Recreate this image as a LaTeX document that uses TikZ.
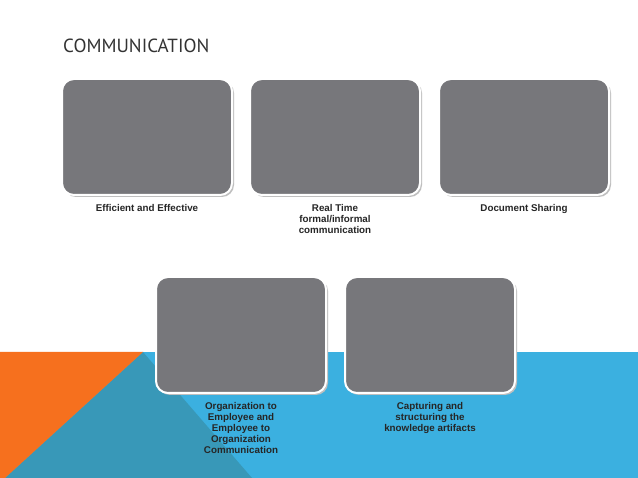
\documentclass[tikz,border=0pt]{standalone}
\usepackage{fontspec}
\setmainfont{Liberation Sans}
\newfontfamily\titlefont{PT Sans}
\begin{document}
\begin{tikzpicture}[x=1pt,y=-1pt,
  card/.style={draw=white,line width=2pt,fill=cardgray,rounded corners=12pt,minimum width=170pt,minimum height=116pt,anchor=north west,inner sep=0pt},
  lbl/.style={anchor=north,align=center,font=\bfseries\fontsize{9.8}{11}\selectfont,text=black!85,inner sep=0pt}]
\definecolor{cardgray}{HTML}{77777B}
\definecolor{lblue}{HTML}{3BB0E0}
\definecolor{dblue}{HTML}{3898B8}
\definecolor{orng}{HTML}{F6701E}
\useasboundingbox (0,0) rectangle (638,478);
\fill[white] (0,0) rectangle (638,478);
\fill[lblue] (0,352) rectangle (638,478);
\fill[dblue] (143,352) -- (252,478) -- (5,478) -- cycle;
\fill[orng] (0,352) -- (143,352) -- (5,478) -- (0,478) -- cycle;
\node[anchor=west,font=\titlefont\fontsize{19}{20}\selectfont,text=black!80,inner sep=0pt] (t) at (63,46) {COMMUNICATION};
\foreach \n/\x/\y in {a/61/78,b/249/78,c/438/78,d/155/276,e/344/276}{
  \fill[black!25] (\x+3,\y+3) [rounded corners=12pt] rectangle ++(170,116);
  \node[card] (\n) at (\x,\y) {};
}
\node[lbl] (la) at ([yshift=-8pt]a.south) {Efficient and Effective};
\node[lbl] (lb) at ([yshift=-8pt]b.south) {Real Time\\formal/informal\\communication};
\node[lbl] (lc) at ([yshift=-8pt]c.south) {Document Sharing};
\node[lbl] (ld) at ([yshift=-8pt]d.south) {Organization to\\Employee and\\Employee to\\Organization\\Communication};
\node[lbl] (le) at ([yshift=-8pt]e.south) {Capturing  and\\structuring the\\knowledge artifacts};
\end{tikzpicture}
\end{document}
